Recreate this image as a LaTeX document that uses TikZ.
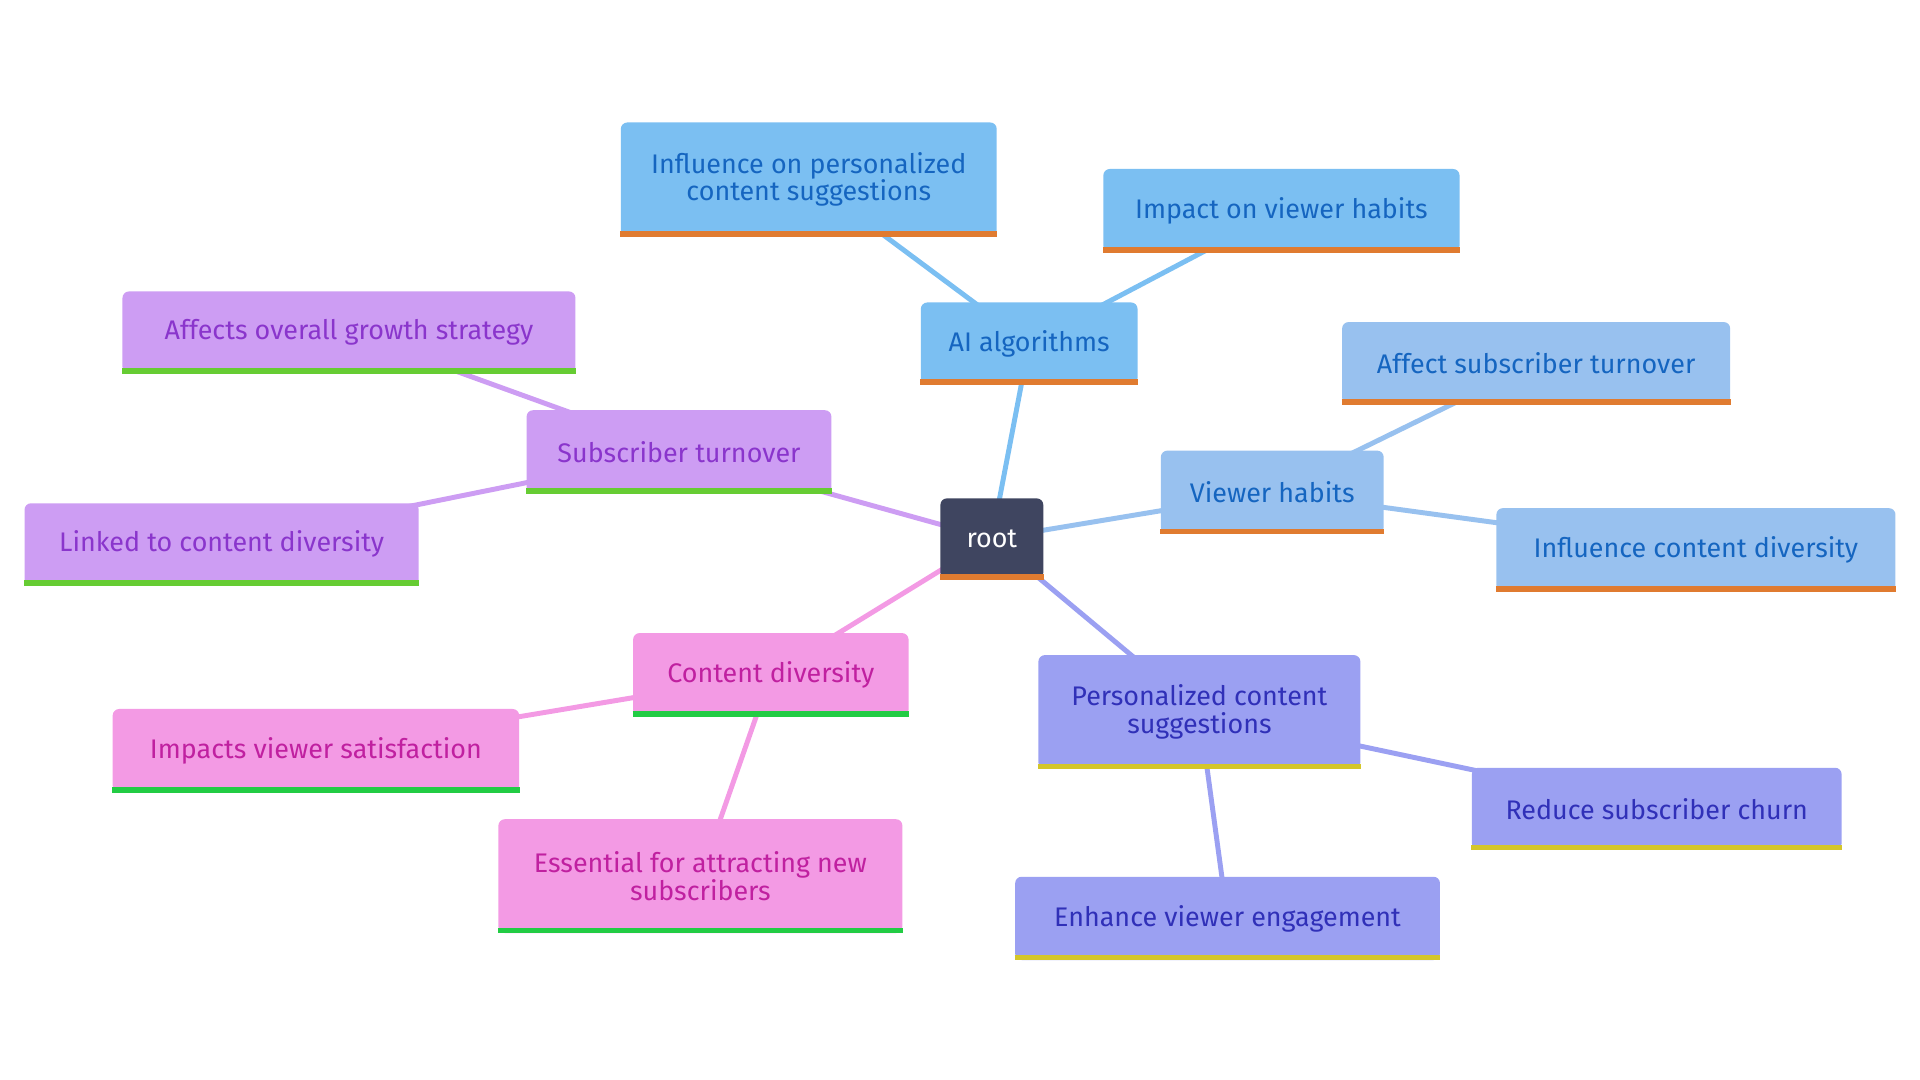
\documentclass[tikz,border=0pt]{standalone}
\usepackage{fontspec}
\setmainfont{Fira Sans}
\definecolor{rootfill}{HTML}{3F4560}
\definecolor{aifill}{HTML}{7BBFF2}
\definecolor{vhfill}{HTML}{98C1EF}
\definecolor{pcfill}{HTML}{9BA0F2}
\definecolor{cdfill}{HTML}{F39AE4}
\definecolor{stfill}{HTML}{CD9DF3}
\definecolor{bluetext}{HTML}{1565C0}
\definecolor{pctext}{HTML}{3030B8}
\definecolor{cdtext}{HTML}{C020A0}
\definecolor{sttext}{HTML}{8A35CC}
\definecolor{orangeline}{HTML}{E07B30}
\definecolor{yellowline}{HTML}{D4C62A}
\definecolor{greenline}{HTML}{22CC44}
\definecolor{limeline}{HTML}{66CC33}
\tikzset{
  box/.style={rounded corners=3pt, align=center, inner sep=2pt, font=\fontsize{12.5}{13}\selectfont},
  link/.style={line width=2.3pt},
  stripe/.style={line width=2.6pt},
}
\newcommand{\stripe}[2]{\draw[stripe,#2] ([yshift=1.3pt]#1.south west) -- ([yshift=1.3pt]#1.south east);}
\begin{document}
\begin{tikzpicture}[x=0.02cm,y=-0.02cm]
\useasboundingbox (0,0) rectangle (1568,882);
% centre and branches
\coordinate (c-root) at (810,440);
\coordinate (c-ai) at (840.5,280.5);
\coordinate (c-aip) at (660.5,146.5);
\coordinate (c-aiv) at (1046.5,172);
\coordinate (c-vh) at (1039,402);
\coordinate (c-vht) at (1254.5,296.5);
\coordinate (c-vhd) at (1385,449);
\coordinate (c-pc) at (979.5,581.5);
\coordinate (c-pcr) at (1353,660.5);
\coordinate (c-pce) at (1002.5,750);
\coordinate (c-cd) at (629.5,551);
\coordinate (c-cds) at (258,613);
\coordinate (c-cde) at (572,715.5);
\coordinate (c-st) at (554.5,369);
\coordinate (c-stg) at (285,271.5);
\coordinate (c-stl) at (181,444.5);
% links
\draw[link,aifill] (c-root) -- (c-ai);
\draw[link,aifill] (c-ai) -- (c-aip);
\draw[link,aifill] (c-ai) -- (c-aiv);
\draw[link,vhfill] (c-root) -- (c-vh);
\draw[link,vhfill] (c-vh) -- (c-vht);
\draw[link,vhfill] (c-vh) -- (c-vhd);
\draw[link,pcfill] (c-root) -- (c-pc);
\draw[link,pcfill] (c-pc) -- (c-pcr);
\draw[link,pcfill] (c-pc) -- (c-pce);
\draw[link,cdfill] (c-root) -- (c-cd);
\draw[link,cdfill] (c-cd) -- (c-cds);
\draw[link,cdfill] (c-cd) -- (c-cde);
\draw[link,stfill] (c-root) -- (c-st);
\draw[link,stfill] (c-st) -- (c-stg);
\draw[link,stfill] (c-st) -- (c-stl);
% nodes
\node[box,fill=rootfill,text=white,minimum width=1.68cm,minimum height=1.32cm] (root) at (c-root) {root};
\stripe{root}{orangeline}
\node[box,fill=aifill,text=bluetext,minimum width=3.54cm,minimum height=1.34cm] (ai) at (c-ai) {AI algorithms};
\stripe{ai}{orangeline}
\node[box,fill=aifill,text=bluetext,minimum width=6.14cm,minimum height=1.86cm] (aip) at (c-aip) {Influence on personalized\\content suggestions};
\stripe{aip}{orangeline}
\node[box,fill=aifill,text=bluetext,minimum width=5.82cm,minimum height=1.36cm] (aiv) at (c-aiv) {Impact on viewer habits};
\stripe{aiv}{orangeline}
\node[box,fill=vhfill,text=bluetext,minimum width=3.64cm,minimum height=1.36cm] (vh) at (c-vh) {Viewer habits};
\stripe{vh}{orangeline}
\node[box,fill=vhfill,text=bluetext,minimum width=6.34cm,minimum height=1.34cm] (vht) at (c-vht) {Affect subscriber turnover};
\stripe{vht}{orangeline}
\node[box,fill=vhfill,text=bluetext,minimum width=6.52cm,minimum height=1.36cm] (vhd) at (c-vhd) {Influence content diversity};
\stripe{vhd}{orangeline}
\node[box,fill=pcfill,text=pctext,minimum width=5.26cm,minimum height=1.86cm] (pc) at (c-pc) {Personalized content\\suggestions};
\stripe{pc}{yellowline}
\node[box,fill=pcfill,text=pctext,minimum width=6.04cm,minimum height=1.34cm] (pcr) at (c-pcr) {Reduce subscriber churn};
\stripe{pcr}{yellowline}
\node[box,fill=pcfill,text=pctext,minimum width=6.94cm,minimum height=1.36cm] (pce) at (c-pce) {Enhance viewer engagement};
\stripe{pce}{yellowline}
\node[box,fill=cdfill,text=cdtext,minimum width=4.5cm,minimum height=1.36cm] (cd) at (c-cd) {Content diversity};
\stripe{cd}{greenline}
\node[box,fill=cdfill,text=cdtext,minimum width=6.64cm,minimum height=1.36cm] (cds) at (c-cds) {Impacts viewer satisfaction};
\stripe{cds}{greenline}
\node[box,fill=cdfill,text=cdtext,minimum width=6.6cm,minimum height=1.86cm] (cde) at (c-cde) {Essential for attracting new\\subscribers};
\stripe{cde}{greenline}
\node[box,fill=stfill,text=sttext,minimum width=4.98cm,minimum height=1.36cm] (st) at (c-st) {Subscriber turnover};
\stripe{st}{limeline}
\node[box,fill=stfill,text=sttext,minimum width=7.4cm,minimum height=1.34cm] (stg) at (c-stg) {Affects overall growth strategy};
\stripe{stg}{limeline}
\node[box,fill=stfill,text=sttext,minimum width=6.44cm,minimum height=1.34cm] (stl) at (c-stl) {Linked to content diversity};
\stripe{stl}{limeline}
\end{tikzpicture}
\end{document}
